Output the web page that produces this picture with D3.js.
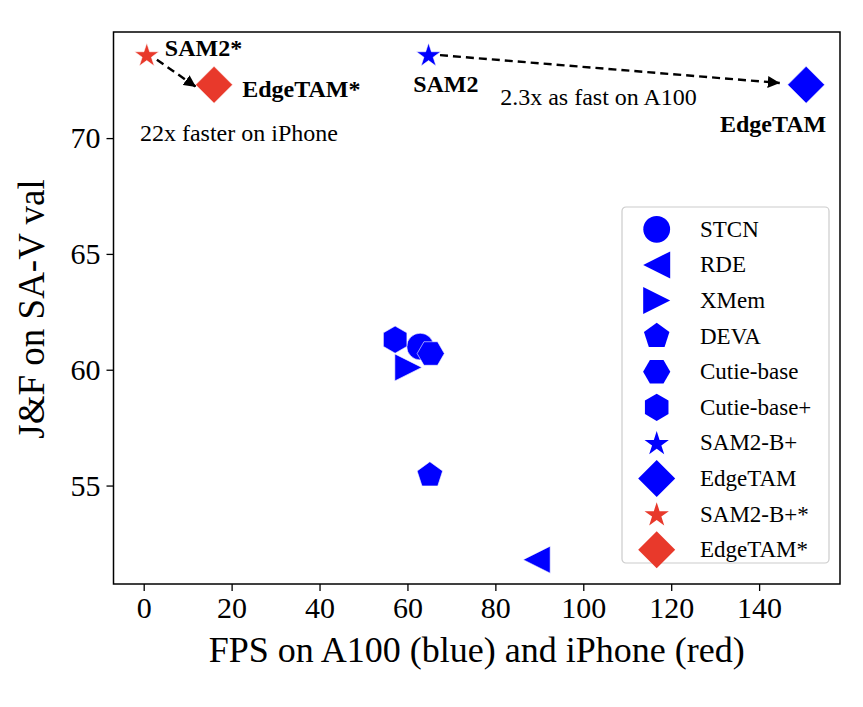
<!DOCTYPE html>
<html>
<head>
<meta charset="utf-8">
<script src="https://cdn.jsdelivr.net/npm/d3@7"></script>
<style>
  body { margin: 0; background: #fff; }
  svg { display: block; font-family: "Liberation Serif", "Times New Roman", serif; }
</style>
</head>
<body>
<div id="wrapper"></div>
<script>
// data
const methods = ["STCN", "RDE", "XMem", "DEVA", "Cutie-base", "Cutie-base+", "SAM2-B+", "EdgeTAM", "SAM2-B+*", "EdgeTAM*"]
const fps = [62.9, 89.4, 60.2, 65.1, 65.3, 57.2, 64.8, 150.7, 0.7, 16]
const jf = [61.0, 51.8, 60.1, 55.45, 60.7, 61.3, 73.6, 72.3, 73.6, 72.3]
const device = ["A100", "A100", "A100", "A100", "A100", "A100", "A100", "A100", "iPhone", "iPhone"]

const xTicks = [0, 20, 40, 60, 80, 100, 120, 140]
const yTicks = [55, 60, 65, 70]

// annotation texts, anchored in data units
const notes = [
  {text: "SAM2*", x: 4.8, y: 73.55, bold: true},
  {text: "EdgeTAM*", x: 22.4, y: 71.78, bold: true},
  {text: "SAM2", x: 61.3, y: 71.99, bold: true},
  {text: "EdgeTAM", x: 131.1, y: 70.26, bold: true},
  {text: "2.3x as fast on A100", x: 81.1, y: 71.43, bold: false},
  {text: "22x faster on iPhone", x: -0.85, y: 69.87, bold: false},
]
const arrows = [
  {x1: 3.0, y1: 73.38, x2: 11.9, y2: 72.21},
  {x1: 67.4, y1: 73.58, x2: 144.7, y2: 72.38},
]

const colors = {A100: "#0000ff", iPhone: "#e8392b"}
const shapes = {
  "STCN": "circle", "RDE": "triLeft", "XMem": "triRight", "DEVA": "pentagon",
  "Cutie-base": "hexFlat", "Cutie-base+": "hexPointy", "SAM2-B+": "star",
  "EdgeTAM": "diamond", "SAM2-B+*": "star", "EdgeTAM*": "diamond",
}

function polygon(n, r, rot) {
  return d3.range(n).map(i => {
    const a = rot + i * 2 * Math.PI / n
    return [r * Math.sin(a), -r * Math.cos(a)]
  })
}
const closed = d3.line().curve(d3.curveLinearClosed)
function markerPath(shape) {
  switch (shape) {
    case "circle": return d3.symbol(d3.symbolCircle, Math.PI * 13.4 * 13.4)()
    case "triLeft": return closed([[-13.5, 0], [13.5, -13.5], [13.5, 13.5]])
    case "triRight": return closed([[13.5, 0], [-13.5, -13.5], [-13.5, 13.5]])
    case "pentagon": return closed(polygon(5, 13.4, 0))
    case "hexPointy": return closed(polygon(6, 13.6, 0))
    case "hexFlat": return closed(polygon(6, 13.6, Math.PI / 6))
    case "diamond": return closed(polygon(4, 18.5, 0))
    case "star": {
      const pts = d3.range(10).map(i => {
        const a = i * Math.PI / 5
        const r = i % 2 ? 12.8 * 0.382 : 12.8
        return [r * Math.sin(a), -r * Math.cos(a) + 1]
      })
      return closed(pts)
    }
  }
}

const dimensions = {
  width: 863,
  height: 707,
  margin: {top: 32, right: 23, bottom: 123, left: 113.5},
}
dimensions.boundedWidth = dimensions.width - dimensions.margin.left - dimensions.margin.right
dimensions.boundedHeight = dimensions.height - dimensions.margin.top - dimensions.margin.bottom

const wrapper = d3.select("#wrapper")
  .append("svg")
    .attr("width", dimensions.width)
    .attr("height", dimensions.height)

const bounds = wrapper.append("g")
  .attr("transform", `translate(${dimensions.margin.left},${dimensions.margin.top})`)

const xScale = d3.scaleLinear()
  .domain([-6.87, 158.4])
  .range([0, dimensions.boundedWidth])
const yScale = d3.scaleLinear()
  .domain([50.75, 74.58])
  .range([dimensions.boundedHeight, 0])

// axes
const xAxis = bounds.append("g")
  .attr("transform", `translate(0,${dimensions.boundedHeight})`)
  .call(d3.axisBottom(xScale).tickValues(xTicks).tickSize(7).tickPadding(6).tickSizeOuter(0))
const yAxis = bounds.append("g")
  .call(d3.axisLeft(yScale).tickValues(yTicks).tickSize(7).tickPadding(6).tickSizeOuter(0))
;[xAxis, yAxis].forEach(ax => {
  ax.select(".domain").remove()
  ax.selectAll("line").attr("stroke", "#000").attr("stroke-width", 1.3)
  ax.selectAll("text").attr("fill", "#000").style("font-size", "30px").style("font-family", "Liberation Serif, serif")
})

bounds.append("rect")
  .attr("width", dimensions.boundedWidth)
  .attr("height", dimensions.boundedHeight)
  .attr("fill", "none")
  .attr("stroke", "#000")
  .attr("stroke-width", 1.5)

wrapper.append("text")
  .attr("x", dimensions.margin.left + dimensions.boundedWidth / 2)
  .attr("y", 662)
  .attr("text-anchor", "middle")
  .style("font-size", "36px")
  .text("FPS on A100 (blue) and iPhone (red)")

wrapper.append("text")
  .attr("transform", `translate(44,${dimensions.margin.top + dimensions.boundedHeight / 2 + 1}) rotate(-90)`)
  .attr("text-anchor", "middle")
  .style("font-size", "37px")
  .text("J&F on SA-V val")

// points
const points = d3.range(methods.length)
bounds.append("g")
  .selectAll("path")
  .data(points)
  .join("path")
    .attr("d", i => markerPath(shapes[methods[i]]))
    .attr("transform", i => `translate(${xScale(fps[i])},${yScale(jf[i])})`)
    .attr("fill", i => colors[device[i]])
    .attr("stroke", "#fff")
    .attr("stroke-width", 0.6)

// arrows
const defs = wrapper.append("defs")
defs.append("marker")
  .attr("id", "head")
  .attr("viewBox", "0 0 10 10")
  .attr("refX", 10).attr("refY", 5)
  .attr("markerWidth", 5).attr("markerHeight", 5)
  .attr("markerUnits", "strokeWidth")
  .attr("orient", "auto")
  .append("path")
    .attr("d", "M0,0L10,5L0,10z")
    .attr("fill", "#000")

bounds.append("g")
  .selectAll("line")
  .data(arrows)
  .join("line")
    .attr("x1", d => xScale(d.x1))
    .attr("y1", d => yScale(d.y1))
    .attr("x2", d => xScale(d.x2))
    .attr("y2", d => yScale(d.y2))
    .attr("stroke", "#000")
    .attr("stroke-width", 2.4)
    .attr("stroke-dasharray", "8,5")
    .attr("marker-end", "url(#head)")

bounds.append("g")
  .selectAll("text")
  .data(notes)
  .join("text")
    .attr("x", d => xScale(d.x))
    .attr("y", d => yScale(d.y))
    .style("font-size", "24px")
    .style("font-weight", d => d.bold ? "bold" : "normal")
    .text(d => d.text)

// legend
const legend = wrapper.append("g")
  .attr("transform", "translate(622,207)")
legend.append("rect")
  .attr("width", 207)
  .attr("height", 356)
  .attr("rx", 4)
  .attr("fill", "#fff")
  .attr("fill-opacity", 0.8)
  .attr("stroke", "#cccccc")
  .attr("stroke-width", 1.2)
const items = legend.selectAll("g.item")
  .data(points)
  .join("g")
    .attr("class", "item")
    .attr("transform", i => `translate(0,${22.3 + i * 35.6})`)
items.append("path")
  .attr("d", i => markerPath(shapes[methods[i]]))
  .attr("transform", "translate(34.7,0)")
  .attr("fill", i => colors[device[i]])
items.append("text")
  .attr("x", 78)
  .attr("dy", "0.33em")
  .style("font-size", "23px")
  .text(i => methods[i])
</script>
</body>
</html>
